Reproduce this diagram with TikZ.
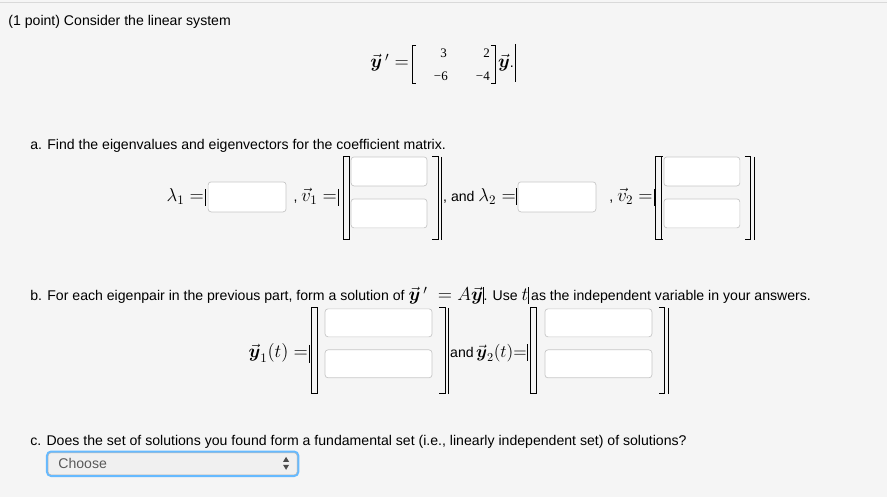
\documentclass[tikz,border=0pt]{standalone}
\usepackage{amsmath}
\usepackage{graphicx}
\usepackage{fontspec}
\setmainfont{Liberation Sans}
\newfontfamily\mathser{Liberation Serif}
\newcommand{\bm}[1]{\scalebox{1.3}{$#1$}}
\newcommand{\crs}{\rule[-3pt]{0.6pt}{17pt}}
\begin{document}
\begin{tikzpicture}[x=1pt,y=-1pt,
  txt/.style={anchor=base west,inner sep=0,font=\fontsize{14.1}{16}\selectfont},
  mth/.style={anchor=base east,inner sep=0,font=\fontsize{14.1}{16}\selectfont},
  ent/.style={anchor=base east,inner sep=0,font=\mathser\fontsize{13}{15}\selectfont},
  ibox/.style={draw=black!22,fill=white,rounded corners=3pt,line width=0.7pt},
  brk/.style={line width=0.9pt},
  cur/.style={line width=0.6pt}]
\fill[black!4] (0,0) rectangle (887,497);
\draw[black!15] (0,2) -- (887,2);
\useasboundingbox (0,0) rectangle (887,497);
\node[txt] (t1) at (8,26) {(1 point) Consider the linear system};
% matrix equation
\node[mth] (yp) at (409,68) {\bm{\vec{\boldsymbol{y}}\,'=}};
\draw[brk] (416,45) -- (412,45) -- (412,83) -- (416,83);
\draw[brk] (491,45) -- (495,45) -- (495,83) -- (491,83);
\node[ent] (a11) at (447,58) {3};
\node[ent] (a12) at (490,58) {2};
\node[ent] (a21) at (448,81) {−6};
\node[ent] (a22) at (490,81) {−4};
\node[txt] (yv) at (498,68) {\bm{\vec{\boldsymbol{y}}}.};
\draw[cur] (515,44) -- (515,82);
% part a
\node[txt] (pa) at (30,150) {a. Find the eigenvalues and eigenvectors for the coefficient matrix.};
\node[mth] (l1) at (204,202) {\bm{\lambda_1 =}};
\draw[cur] (205,189) -- (205,206);
\draw[ibox] (208,182) rectangle (286,212);
\node[mth] (v1) at (337,202) {, \bm{\vec{v}_1 =}};
\draw[cur] (338,189) -- (338,206);
\draw[brk] (350,157) -- (343,157) -- (343,240) -- (350,240);
\draw[cur] (349,157) -- (349,240);
\draw[ibox] (351,157) rectangle (427,186);
\draw[ibox] (351,199) rectangle (427,228);
\draw[brk] (432,157) -- (438,157) -- (438,240) -- (432,240);
\draw[cur] (441,157) -- (441,240);
\node[txt] (l2) at (443,202) {, and \bm{\lambda_2 =}\crs};
\draw[ibox] (518,182) rectangle (596,212);
\node[mth] (v2) at (653,202) {, \bm{\vec{v}_2 =}};
\draw[cur] (654,189) -- (654,206);
\draw[brk] (663,157) -- (656,157) -- (656,240) -- (663,240);
\draw[cur] (661,157) -- (661,240);
\draw[ibox] (664,157) rectangle (740,186);
\draw[ibox] (664,199) rectangle (740,228);
\draw[brk] (745,157) -- (751,157) -- (751,240) -- (745,240);
\draw[cur] (754,157) -- (754,240);
% part b
\node[txt] (pb) at (30,301) {b. For each eigenpair in the previous part, form a solution of \bm{\vec{\boldsymbol{y}}\,'\;=A\vec{\boldsymbol{y}}}\crs. Use \bm{t}\crs\,as the independent variable in your answers.};
\node[mth] (y1) at (308,358) {\bm{\vec{\boldsymbol{y}}_1(t) =}};
\draw[cur] (309,345) -- (309,363);
\draw[brk] (318,308) -- (311,308) -- (311,394) -- (318,394);
\draw[cur] (317,308) -- (317,394);
\draw[ibox] (325,309) rectangle (432,337);
\draw[ibox] (325,350) rectangle (432,378);
\draw[brk] (439,308) -- (445,308) -- (445,394) -- (439,394);
\draw[cur] (448,308) -- (448,394);
\node[txt] (y2) at (450,358) {and\,\scalebox{1.22}{$\vec{\boldsymbol{y}}_2(t) {=}$}\crs};
\draw[brk] (537,308) -- (530,308) -- (530,394) -- (537,394);
\draw[cur] (536,308) -- (536,394);
\draw[ibox] (545,309) rectangle (652,337);
\draw[ibox] (545,350) rectangle (652,378);
\draw[brk] (659,308) -- (665,308) -- (665,394) -- (659,394);
\draw[cur] (668,308) -- (668,394);
% part c
\node[txt] (pc) at (30,446) {c. Does the set of solutions you found form a fundamental set (i.e., linearly independent set) of solutions?};
\draw[draw=blue!45!cyan!60,line width=2.5pt,rounded corners=4pt] (47,452) rectangle (298,476);
\draw[draw=black!30,fill=black!6,rounded corners=3pt] (48,453) rectangle (297,475);
\node[txt,text=black!65] (ch) at (58,469) {Choose};
\fill[black!70] (283,462) -- (286,457) -- (289,462) -- cycle;
\fill[black!70] (283,465) -- (286,470) -- (289,465) -- cycle;
\end{tikzpicture}
\end{document}
